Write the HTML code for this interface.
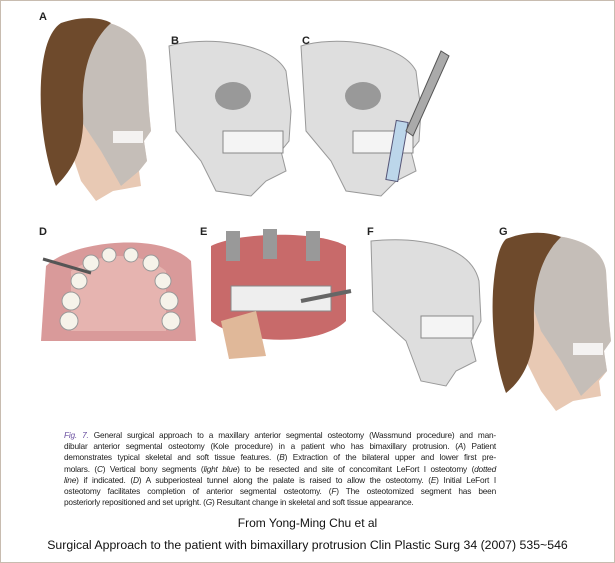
<!DOCTYPE html>
<html><head><meta charset="utf-8"><style>
html,body{margin:0;padding:0;background:#fff}
#w{position:relative;width:613px;height:561px;border:1px solid #c8bcb0;overflow:hidden;background:#fff;font-family:"Liberation Sans",sans-serif}
.l{position:absolute;font-weight:bold;font-size:11px;color:#222}
#cap{position:absolute;left:63px;top:429px;width:432px;font-size:8.3px;line-height:11.2px;color:#222;letter-spacing:-0.2px}
#cap div{text-align:justify;text-align-last:justify;white-space:nowrap;height:11.2px}
#cap div.last{text-align-last:left}
#cap i.f{color:#6a4fa0}
.c{position:absolute;left:0;width:613px;text-align:center;font-size:12px;color:#111}
</style></head><body><div id="w">
<svg width="613" height="420" style="position:absolute;left:0;top:0">
<path d="M60,25 C95,10 140,25 145,60 L148,110 L150,130 L143,140 L146,160 L138,170 L140,185 L112,190 L95,200 L80,180 L70,150 Z" fill="#e8c9b4"/>
<path d="M60,25 C95,10 140,25 145,60 L148,110 L150,130 L143,140 L146,160 L138,170 L120,185 L100,150 L80,120 Z" fill="#b9b9b9" opacity="0.75"/>
<path d="M60,22 C80,15 100,16 110,22 C90,40 80,70 82,110 C84,150 70,170 55,185 C45,160 38,120 40,80 C42,50 48,30 60,22Z" fill="#6e4a2c"/>
<rect x="112" y="130" width="30" height="12" fill="#fff" opacity=".8"/>
<path d="M168,45 C200,35 270,40 285,70 L290,110 L288,140 L280,150 L285,170 L265,180 L250,195 L215,190 L200,160 L175,130 Z" fill="#dedede" stroke="#999"/>
<ellipse cx="232" cy="95" rx="18" ry="14" fill="#999"/>
<rect x="222" y="130" width="60" height="22" fill="#f4f4f4" stroke="#888"/>
<path d="M300,45 C330,35 400,40 415,70 L420,110 L418,140 L410,150 L415,170 L395,180 L380,195 L345,190 L330,160 L305,130 Z" fill="#dedede" stroke="#999"/>
<ellipse cx="362" cy="95" rx="18" ry="14" fill="#999"/>
<rect x="352" y="130" width="60" height="22" fill="#f4f4f4" stroke="#888"/>
<rect x="390" y="120" width="12" height="60" fill="#bcd6ea" stroke="#557" transform="rotate(10 396 150)"/>
<path d="M405,130 L440,50 L448,55 L412,135Z" fill="#aaa" stroke="#555"/>
<path d="M45,265 C70,240 160,230 190,260 L195,340 L40,340 Z" fill="#d99a9a"/>
<path d="M70,270 C100,250 140,250 165,270 L165,330 L70,330 Z" fill="#e6b4b0"/>
<g fill="#f6f3ea" stroke="#999"><circle cx="70" cy="300" r="9"/><circle cx="68" cy="320" r="9"/><circle cx="90" cy="262" r="8"/><circle cx="150" cy="262" r="8"/><circle cx="168" cy="300" r="9"/><circle cx="170" cy="320" r="9"/><circle cx="78" cy="280" r="8"/><circle cx="162" cy="280" r="8"/><circle cx="108" cy="254" r="7"/><circle cx="130" cy="254" r="7"/></g>
<line x1="42" y1="258" x2="90" y2="272" stroke="#555" stroke-width="3"/>
<path d="M210,245 C240,230 320,230 345,245 L345,320 C320,345 240,345 210,320Z" fill="#c86a6a"/>
<rect x="225" y="230" width="14" height="30" fill="#999"/><rect x="262" y="228" width="14" height="30" fill="#999"/><rect x="305" y="230" width="14" height="30" fill="#999"/>
<rect x="230" y="285" width="100" height="25" fill="#eee" stroke="#888"/>
<path d="M220,320 L255,310 L265,355 L228,358Z" fill="#e0b899"/>
<line x1="300" y1="300" x2="350" y2="290" stroke="#666" stroke-width="4"/>
<path d="M370,240 C420,235 470,245 478,280 L480,320 L470,340 L475,360 L455,370 L445,385 L420,380 L405,340 L372,310 Z" fill="#dedede" stroke="#999"/>
<rect x="420" y="315" width="52" height="22" fill="#f4f4f4" stroke="#888"/>
<path d="M510,240 C545,228 600,235 605,270 L608,320 L610,340 L603,350 L606,370 L598,380 L600,395 L572,400 L555,410 L540,390 L525,360 Z" fill="#e8c9b4"/>
<path d="M510,240 C545,228 600,235 605,270 L608,320 L610,340 L603,350 L606,370 L580,395 L560,360 L540,330 Z" fill="#b9b9b9" opacity="0.75"/>
<path d="M505,238 C525,230 545,230 560,236 C540,255 532,285 533,320 C534,360 520,380 505,392 C495,365 490,325 492,290 C494,262 498,245 505,238Z" fill="#6e4a2c"/>
<rect x="572" y="342" width="30" height="12" fill="#fff" opacity=".8"/>
</svg>
<div class="l" style="left:38px;top:10px">A</div>
<div class="l" style="left:170px;top:34px">B</div>
<div class="l" style="left:301px;top:34px">C</div>
<div class="l" style="left:38px;top:225px">D</div>
<div class="l" style="left:199px;top:225px">E</div>
<div class="l" style="left:366px;top:225px">F</div>
<div class="l" style="left:498px;top:225px">G</div>
<div id="cap">
<div><i class="f">Fig. 7.</i> General surgical approach to a maxillary anterior segmental osteotomy (Wassmund procedure) and man-</div>
<div>dibular anterior segmental osteotomy (Kole procedure) in a patient who has bimaxillary protrusion. (<i>A</i>) Patient</div>
<div>demonstrates typical skeletal and soft tissue features. (<i>B</i>) Extraction of the bilateral upper and lower first pre-</div>
<div>molars. (<i>C</i>) Vertical bony segments (<i>light blue</i>) to be resected and site of concomitant LeFort I osteotomy (<i>dotted</i></div>
<div><i>line</i>) if indicated. (<i>D</i>) A subperiosteal tunnel along the palate is raised to allow the osteotomy. (<i>E</i>) Initial LeFort I</div>
<div>osteotomy facilitates completion of anterior segmental osteotomy. (<i>F</i>) The osteotomized segment has been</div>
<div class="last">posteriorly repositioned and set upright. (<i>G</i>) Resultant change in skeletal and soft tissue appearance.</div>
</div>
<div class="c" style="top:515px">From Yong-Ming Chu et al</div>
<div class="c" style="top:537px;font-size:12.3px">Surgical Approach to the patient with bimaxillary protrusion Clin Plastic Surg 34 (2007) 535~546</div>
</div></body></html>
